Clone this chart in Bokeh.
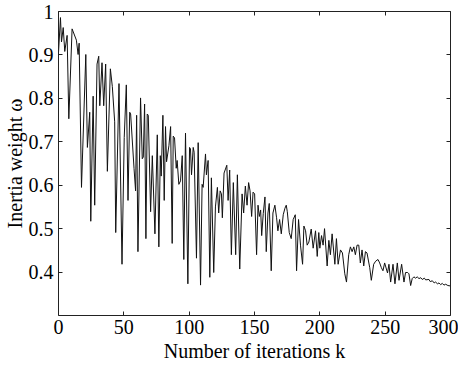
from bokeh.plotting import figure
from bokeh.models import LinearAxis, Range1d, FixedTicker, CustomJSTickFormatter
from bokeh.embed import file_html
from bokeh.resources import INLINE

iterations = [0, 1.5, 2.3, 3.6, 4.8, 6.6, 7.9, 10.4, 13.7, 15.0, 15.8, 17.6, 20.9, 22.1, 23.9, 24.7,
              26.5, 27.7, 29.5, 30.8, 31.6, 33.3, 34.6, 36.1, 37.4, 39.7, 41.2, 43.0, 43.8, 46.3,
              48.6, 50.3, 51.9, 53.2, 54.5, 55.2, 57.8, 59.0, 59.8, 60.8, 62.8, 64.1, 64.9, 65.9,
              66.9, 67.9, 68.7, 70.5, 71.8, 73.8, 75.6, 76.8, 77.9, 78.6, 79.9, 80.9, 81.9, 82.7,
              84.5, 85.8, 87.0, 87.8, 88.8, 90.1, 90.8, 92.1, 93.4, 94.7, 95.9, 97.2, 99.0, 100.3,
              101.0, 101.8, 103.1, 103.8, 105.6, 106.9, 108.7, 109.9, 110.7, 112.5, 113.2, 114.5,
              115.8, 117.0, 118.8, 120.1, 121.6, 122.6, 123.7, 124.7, 125.4, 126.7, 128.8, 129.8,
              131.0, 132.3, 133.8, 135.6, 136.9, 138.7, 140.5, 141.7, 143.0, 144.3, 145.5, 146.6,
              147.8, 148.9, 150.1, 151.6, 152.7, 153.7, 154.7, 155.5, 156.7, 158.0, 159.0, 160.3,
              161.3, 162.8, 164.1, 165.6, 166.9, 167.9, 169.2, 170.5, 172.0, 173.3, 174.3, 175.1,
              176.6, 178.1, 179.6, 181.2, 182.2, 183.7, 185.2, 186.8, 187.8, 189.1, 190.3, 191.6,
              193.4, 194.9, 196.7, 198.0, 199.2, 200.0, 201.3, 202.5, 203.6, 205.6, 206.9, 208.1,
              209.4, 211.5, 212.7, 214.0, 215.8, 217.3, 219.1, 220.4, 222.1, 223.4, 224.7, 226.0,
              227.2, 228.5, 229.8, 231.0, 232.3, 233.6, 234.9, 236.1, 238.2, 239.4, 241.2, 242.7,
              244.5, 245.8, 247.1, 248.3, 249.6, 251.8, 252.9, 254.2, 256.0, 257.5, 259.3, 260.6,
              262.6, 264.4, 265.6, 267.2, 268.2, 269.5, 270.7, 272.0, 273.3, 274.5, 275.9, 277.2,
              278.4, 280.0, 281.0, 283.5, 284.5, 286.1, 287.5, 288.6, 290.0, 291.2, 292.5, 293.7,
              295.0, 296.3, 298.0, 300.0]

inertia_weight = [0.905, 0.986, 0.930, 0.963, 0.908, 0.945, 0.753, 0.960, 0.934, 0.901, 0.927, 0.595,
                  0.901, 0.687, 0.768, 0.517, 0.805, 0.554, 0.879, 0.897, 0.783, 0.882, 0.783, 0.879,
                  0.632, 0.868, 0.827, 0.746, 0.491, 0.834, 0.418, 0.710, 0.831, 0.565, 0.768, 0.764,
                  0.639, 0.587, 0.761, 0.447, 0.801, 0.661, 0.665, 0.787, 0.477, 0.764, 0.761, 0.539,
                  0.668, 0.488, 0.716, 0.458, 0.668, 0.621, 0.761, 0.565, 0.735, 0.654, 0.691, 0.735,
                  0.466, 0.713, 0.709, 0.639, 0.657, 0.602, 0.610, 0.668, 0.429, 0.720, 0.373, 0.687,
                  0.684, 0.624, 0.687, 0.676, 0.432, 0.698, 0.370, 0.602, 0.595, 0.672, 0.624, 0.657,
                  0.388, 0.617, 0.399, 0.550, 0.595, 0.536, 0.587, 0.580, 0.525, 0.628, 0.646, 0.565,
                  0.635, 0.440, 0.606, 0.440, 0.624, 0.407, 0.580, 0.536, 0.598, 0.554, 0.606, 0.587,
                  0.528, 0.584, 0.580, 0.440, 0.554, 0.528, 0.543, 0.484, 0.535, 0.573, 0.447, 0.536,
                  0.558, 0.403, 0.536, 0.554, 0.525, 0.495, 0.521, 0.488, 0.532, 0.547, 0.554, 0.539,
                  0.491, 0.477, 0.521, 0.532, 0.403, 0.521, 0.462, 0.418, 0.506, 0.495, 0.462, 0.469,
                  0.499, 0.455, 0.495, 0.436, 0.491, 0.455, 0.484, 0.462, 0.500, 0.414, 0.473, 0.440,
                  0.488, 0.418, 0.477, 0.418, 0.451, 0.444, 0.396, 0.377, 0.440, 0.458, 0.447, 0.458,
                  0.440, 0.462, 0.462, 0.421, 0.451, 0.414, 0.447, 0.444, 0.410, 0.381, 0.418, 0.425,
                  0.429, 0.421, 0.410, 0.403, 0.421, 0.398, 0.418, 0.377, 0.418, 0.373, 0.421, 0.381,
                  0.418, 0.377, 0.399, 0.399, 0.396, 0.369, 0.385, 0.389, 0.386, 0.389, 0.385, 0.387,
                  0.383, 0.386, 0.382, 0.383, 0.378, 0.380, 0.375, 0.377, 0.373, 0.375, 0.371, 0.374,
                  0.370, 0.372, 0.369, 0.368]

x_ticks = [0, 50, 100, 150, 200, 250, 300]
y_ticks = [0.4, 0.5, 0.6, 0.7, 0.8, 0.9, 1.0]

x_title = "Number of iterations k"
y_title = "Inertia weight ω"

FONT = "Liberation Serif"
FS = "20px"

p = figure(width=458, height=364, output_backend="svg", toolbar_location=None,
           x_range=Range1d(0, 300), y_range=Range1d(0.3, 1.0),
           min_border_left=57, min_border_right=8, min_border_top=11, min_border_bottom=48,
           background_fill_color="white", border_fill_color="white")
p.outline_line_color = None
p.xgrid.visible = False
p.ygrid.visible = False

p.line(iterations, inertia_weight, line_color="#111111", line_width=1)

y_fmt = CustomJSTickFormatter(code="return tick >= 0.999 ? '1' : tick.toFixed(1);")
blank_fmt = CustomJSTickFormatter(code="return '';")

def style(ax, standoff):
    ax.axis_line_color = "#222222"
    ax.axis_line_width = 1
    ax.major_tick_in = 4
    ax.major_tick_out = 0
    ax.minor_tick_in = 0
    ax.minor_tick_out = 0
    ax.major_tick_line_color = "#222222"
    ax.major_label_text_font = FONT
    ax.major_label_text_font_size = FS
    ax.major_label_text_color = "black"
    ax.major_label_text_line_height = 1.0
    ax.major_label_standoff = standoff
    ax.axis_label_text_font = FONT
    ax.axis_label_text_font_size = FS
    ax.axis_label_text_font_style = "normal"
    ax.axis_label_text_color = "black"
    ax.axis_label_text_line_height = 1.0

xa = p.xaxis[0]
ya = p.yaxis[0]
xa.ticker = FixedTicker(ticks=x_ticks)
ya.ticker = FixedTicker(ticks=y_ticks)
ya.formatter = y_fmt
style(xa, 4)
style(ya, 5)
xa.axis_label = x_title
xa.axis_label_standoff = 3
ya.axis_label = y_title
ya.axis_label_standoff = 0

top = LinearAxis(ticker=FixedTicker(ticks=x_ticks), formatter=blank_fmt)
right = LinearAxis(ticker=FixedTicker(ticks=y_ticks), formatter=blank_fmt)
style(top, 0)
style(right, 0)
p.add_layout(top, "above")
p.add_layout(right, "right")

open("out.html", "w").write(file_html(p, INLINE))
